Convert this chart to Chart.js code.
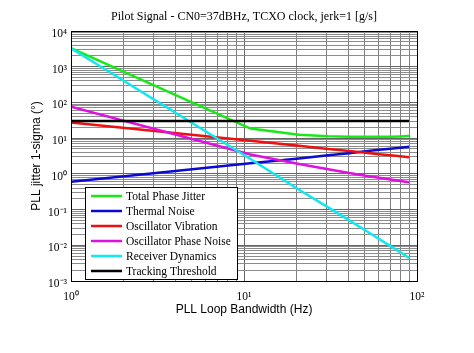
<!DOCTYPE html>
<html>
<head>
<meta charset="utf-8">
<script src="https://cdn.jsdelivr.net/npm/chart.js@4.4.1/dist/chart.umd.min.js"></script>
<style>
  html, body { margin: 0; padding: 0; background: #fff; }
  #wrap { width: 474px; height: 353px; }
</style>
</head>
<body>
<div id="wrap"><canvas id="c" width="474" height="353"></canvas></div>
<script>
// ---- data ----
const freqs          = [1, 10.89, 20.78, 30.67, 40.56, 50.44, 60.33, 70.22, 80.11, 90];
const totalJitter    = [3300, 18.5, 12.5, 11.3, 11.0, 10.9, 10.9, 11.0, 11.2, 11.4];
const thermalNoise   = [0.6, 1.97, 2.7, 3.3, 3.8, 4.3, 4.7, 5.05, 5.4, 5.7];
const oscVibration   = [27.5, 8.5, 6.1, 5.0, 4.35, 3.9, 3.55, 3.3, 3.1, 2.9];
const oscPhaseNoise  = [76, 3.5, 1.9, 1.35, 1.05, 0.88, 0.78, 0.70, 0.63, 0.58];
const rxDynamics     = [3300, 2.6, 0.36, 0.115, 0.05, 0.026, 0.015, 0.0095, 0.0064, 0.0044];
const threshold      = [30, 30, 30, 30, 30, 30, 30, 30, 30, 30];

const seriesNames  = ['Total Phase Jitter', 'Thermal Noise', 'Oscillator Vibration',
                      'Oscillator Phase Noise', 'Receiver Dynamics', 'Tracking Threshold'];
const seriesColors = ['#18e818', '#0a0ad0', '#ee1010', '#e010e0', '#10e8f0', '#000000'];

const xTickValues = [1, 10, 100];
const xTickLabels = ['10\u2070', '10\u00b9', '10\u00b2'];
const yTickValues = [1e-3, 1e-2, 1e-1, 1, 10, 100, 1000, 10000];
const yTickLabels = ['10\u207b\u00b3', '10\u207b\u00b2', '10\u207b\u00b9', '10\u2070',
                     '10\u00b9', '10\u00b2', '10\u00b3', '10\u2074'];

const titleText = 'Pilot Signal - CN0=37dBHz, TCXO clock, jerk=1 [g/s]';
const xTitle = 'PLL Loop Bandwidth (Hz)';
const yTitle = 'PLL jitter 1-sigma (\u00b0)';

// ---- build ----
const allSeries = [totalJitter, thermalNoise, oscVibration, oscPhaseNoise, rxDynamics, threshold];
const datasets = allSeries.map((arr, i) => ({
  label: seriesNames[i],
  data: freqs.map((f, k) => ({x: f, y: arr[k]})),
  borderColor: seriesColors[i],
  backgroundColor: seriesColors[i],
  borderWidth: 2.5,
  pointRadius: 0,
  tension: 0,
  fill: false
}));
datasets.forEach((d, i) => d.order = 6 - i);

function logTicks(minExp, maxExp) {
  const out = [];
  for (let e = minExp; e < maxExp; e++) {
    for (let m = 1; m <= 9; m++) out.push(m * Math.pow(10, e));
  }
  out.push(Math.pow(10, maxExp));
  return out;
}
function isDecade(v) {
  const l = Math.log10(v);
  return Math.abs(l - Math.round(l)) < 1e-9;
}
function labelFor(values, labels, v) {
  for (let i = 0; i < values.length; i++) {
    if (Math.abs(Math.log10(values[i]) - Math.log10(v)) < 1e-9) return labels[i];
  }
  return '';
}

const legendPlugin = {
  id: 'boxLegend',
  afterDatasetsDraw(chart) {
    const ctx = chart.ctx;
    const bx = 85.5, by = 187.5, bw = 152, bh = 92;
    ctx.save();
    ctx.fillStyle = '#fff';
    ctx.fillRect(bx, by, bw, bh);
    ctx.strokeStyle = '#000';
    ctx.lineWidth = 1;
    ctx.strokeRect(bx, by, bw, bh);
    ctx.font = '11.5px "Liberation Serif", "Times New Roman", serif';
    ctx.textBaseline = 'middle';
    ctx.textAlign = 'left';
    chart.data.datasets.forEach((ds, i) => {
      const yy = 196 + i * 15;
      ctx.strokeStyle = ds.borderColor;
      ctx.lineWidth = 2.5;
      ctx.beginPath();
      ctx.moveTo(91, yy);
      ctx.lineTo(122, yy);
      ctx.stroke();
      ctx.fillStyle = '#000';
      ctx.fillText(ds.label, 126, yy + 0.5);
    });
    ctx.restore();
  },
  afterDraw(chart) {
    const a = chart.chartArea;
    const ctx = chart.ctx;
    ctx.save();
    ctx.strokeStyle = '#000';
    ctx.lineWidth = 1;
    ctx.strokeRect(Math.round(a.left) + 0.5, Math.round(a.top) + 0.5,
                   Math.round(a.right - a.left), Math.round(a.bottom - a.top));
    ctx.restore();
  }
};

const tickFont = {family: '"Liberation Serif", "Times New Roman", serif', size: 11.5};

new Chart(document.getElementById('c'), {
  type: 'line',
  data: { datasets },
  plugins: [legendPlugin],
  options: {
    responsive: false,
    animation: false,
    devicePixelRatio: 1,
    layout: { padding: { left: 0, right: 57, top: 0, bottom: 0 } },
    plugins: {
      legend: { display: false },
      tooltip: { enabled: false },
      title: {
        display: true,
        text: titleText,
        fullSize: false,
        color: '#000',
        font: { family: '"Liberation Serif", "Times New Roman", serif', size: 12, weight: 'normal', lineHeight: 1.2 },
        padding: { top: 10, bottom: 6.6 }
      }
    },
    scales: {
      x: {
        type: 'logarithmic',
        min: 1, max: 100,
        afterBuildTicks: s => { s.ticks = logTicks(0, 2).map(v => ({value: v})); },
        afterFit: s => { s.height = 72; },
        grid: {
          color: ctx => isDecade(ctx.tick.value) ? '#666' : '#808080',
          lineWidth: 1,
          drawTicks: false
        },
        border: { display: false },
        ticks: {
          autoSkip: false,
          maxRotation: 0,
          padding: 9,
          color: '#000',
          font: tickFont,
          callback: v => labelFor(xTickValues, xTickLabels, v)
        },
        title: {
          display: true,
          text: xTitle,
          color: '#000',
          font: { family: '"Liberation Sans", Arial, sans-serif', size: 12 },
          padding: { top: 0, bottom: 36 }
        }
      },
      y: {
        type: 'logarithmic',
        min: 1e-3, max: 1e4,
        afterBuildTicks: s => { s.ticks = logTicks(-3, 4).map(v => ({value: v})); },
        afterFit: s => { s.width = 71; },
        grid: {
          color: ctx => isDecade(ctx.tick.value) ? '#666' : '#8c8c8c',
          lineWidth: 1,
          drawTicks: false
        },
        border: { display: false },
        ticks: {
          autoSkip: false,
          padding: 4,
          labelOffset: 3,
          color: '#000',
          font: tickFont,
          callback: v => labelFor(yTickValues, yTickLabels, v)
        },
        title: {
          display: true,
          text: yTitle,
          color: '#000',
          font: { family: '"Liberation Sans", Arial, sans-serif', size: 12 },
          padding: { top: 29, bottom: 0 }
        }
      }
    }
  }
});
</script>
</body>
</html>
